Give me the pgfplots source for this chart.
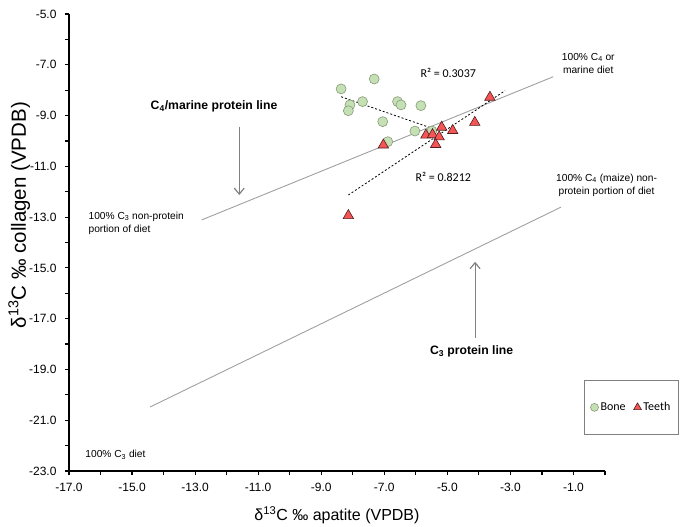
\documentclass[border=0pt]{standalone}
\usepackage{fontspec}
\setmainfont{Liberation Sans}
\newfontfamily\calibri{Carlito}
\usepackage{pgfplots}
\pgfplotsset{compat=1.18}
\usetikzlibrary{arrows.meta}
\definecolor{bonefill}{RGB}{197,224,180}
\definecolor{bonedraw}{RGB}{135,155,120}
\definecolor{toothfill}{RGB}{245,85,85}
\definecolor{toothdraw}{RGB}{80,30,30}
\definecolor{refline}{RGB}{160,160,160}
\definecolor{arrowgray}{RGB}{128,128,128}
\begin{document}
\begin{tikzpicture}
\path[use as bounding box] (0,0) rectangle (685pt,527pt);
\begin{axis}[
  at={(69pt,56pt)}, anchor=south west,
  scale only axis, width=536pt, height=457pt,
  xmin=-17, xmax=0, ymin=-23, ymax=-5,
  axis x line=bottom, axis y line=left,
  axis line style={-, black, line width=1.2pt},
  xtick={-17,-15,...,-1},
  xticklabels={-17.0,-15.0,-13.0,-11.0,-9.0,-7.0,-5.0,-3.0,-1.0},
  minor xtick={-16,-14,...,0},
  ytick={-23,-21,...,-5},
  yticklabels={-23.0,-21.0,-19.0,-17.0,-15.0,-13.0,-11.0,-9.0,-7.0,-5.0},
  minor ytick={-22,-20,...,-6},
  tick align=outside, major tick length=4pt, minor tick length=4pt,
  tick style={black, line width=1.2pt},
  ticklabel style={font=\fontsize{12}{14}\selectfont},
  xticklabel style={yshift=-5pt},
  yticklabel style={xshift=-5pt},
  xlabel={δ\textsuperscript{13}C ‰ apatite (VPDB)},
  ylabel={δ\textsuperscript{13}C ‰ collagen (VPDB)},
  xlabel style={at={(axis description cs:0.5,-0.0963)}, anchor=center, font=\fontsize{16}{19}\selectfont},
  ylabel style={at={(axis description cs:-0.093,0.56)}, anchor=center, rotate=0, font=\fontsize{20.5}{24}\selectfont},
  clip=false,
  legend columns=2,
  legend style={at={(0.961,0.199)}, anchor=north west, draw=arrowgray, line width=0.8pt,
    font=\calibri\fontsize{12}{14}\selectfont, inner xsep=6pt, inner ysep=20pt,
    /tikz/every even column/.append style={column sep=6pt}},
]
% Bone
\addplot[only marks, mark=*, mark size=5pt,
  mark options={fill=bonefill, draw=bonedraw, line width=0.6pt},
  legend image post style={mark size=4pt}] coordinates {
(-7.32,-7.56) (-8.37,-7.95) (-8.09,-8.58) (-8.14,-8.81) (-7.69,-8.45)
(-6.58,-8.45) (-6.47,-8.58) (-5.84,-8.61) (-7.05,-9.24) (-6.03,-9.61)
(-6.89,-10.03) (-5.49,-9.61)
};
\addlegendentry{Bone}
% Teeth
\addplot[only marks, mark=triangle*, mark size=6pt,
  mark options={fill=toothfill, draw=toothdraw, line width=0.6pt},
  legend image post style={mark size=4.5pt}] coordinates {
(-3.65,-8.28) (-4.13,-9.27) (-4.83,-9.59) (-5.18,-9.46) (-5.68,-9.77)
(-5.47,-9.75) (-5.26,-9.84) (-5.37,-10.14) (-7.03,-10.16) (-8.14,-12.94)
};
\addlegendentry{Teeth}
% reference diet lines
\addplot[refline, line width=0.9pt, forget plot] coordinates {(-12.79,-13.11) (-1.64,-7.47)};
\addplot[refline, line width=0.9pt, forget plot] coordinates {(-14.43,-20.48) (-1.40,-12.61)};
% trendlines
\addplot[black, line width=0.8pt, dash pattern=on 2pt off 2pt, forget plot] coordinates {(-8.37,-8.26) (-5.49,-9.50)};
\addplot[black, line width=0.8pt, dash pattern=on 2pt off 2pt, forget plot] coordinates {(-8.14,-12.13) (-3.17,-8.02)};
% arrows
\addplot[arrowgray, line width=1.2pt, -{Straight Barb[length=6pt,width=10pt]}, forget plot] coordinates {(-11.6,-9.44) (-11.6,-12.13)};
\addplot[arrowgray, line width=1.2pt, -{Straight Barb[length=6pt,width=10pt]}, forget plot] coordinates {(-4.12,-17.77) (-4.12,-14.76)};
% annotations
\node[font=\fontsize{12.2}{14}\selectfont\bfseries] at (axis cs:-12.40,-8.65) {C\textsubscript{4}/marine protein line};
\node[font=\fontsize{12.2}{14}\selectfont\bfseries] at (axis cs:-4.23,-18.30) {C\textsubscript{3} protein line};
\node[font=\fontsize{10.2}{13}\selectfont, align=center] at (axis cs:-0.53,-6.94) {100\% C\textsubscript{4} or\\marine diet};
\node[font=\fontsize{10.2}{13}\selectfont, align=center] at (axis cs:0.05,-11.73) {100\% C\textsubscript{4} (maize) non-\\protein portion of diet};
\node[font=\calibri\fontsize{12}{14}\selectfont] at (axis cs:-4.97,-7.34) {R² = 0.3037};
\node[font=\calibri\fontsize{12}{14}\selectfont] at (axis cs:-5.13,-11.43) {R² = 0.8212};
\node[font=\fontsize{10.2}{13}\selectfont, align=left, anchor=west] at (axis cs:-16.49,-13.23) {100\% C\textsubscript{3} non-protein\\portion of diet};
\node[font=\fontsize{10.2}{13}\selectfont, anchor=west] at (axis cs:-16.59,-22.37) {100\% C\textsubscript{3} diet};
\end{axis}
\end{tikzpicture}
\end{document}
